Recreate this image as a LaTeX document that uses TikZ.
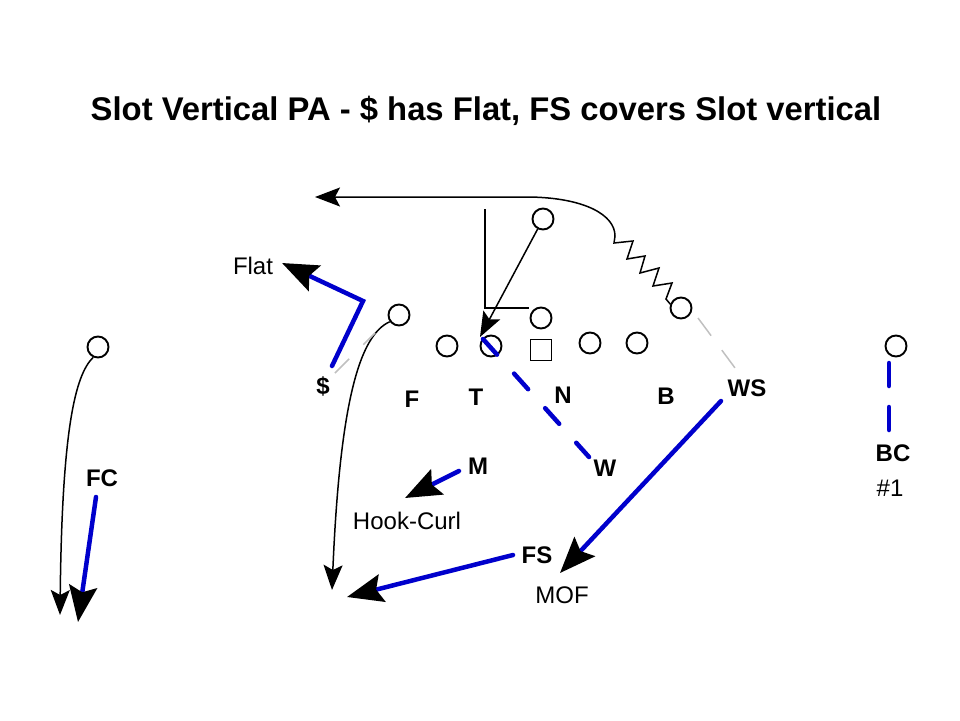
\documentclass[tikz,border=0pt]{standalone}
\usepackage{fontspec}
\setmainfont{Liberation Sans}
\usetikzlibrary{arrows.meta}
\definecolor{routeblue}{RGB}{0,0,204}
\definecolor{ghost}{RGB}{192,192,192}
\begin{document}
\begin{tikzpicture}[x=1pt,y=-1pt,
  player/.style={circle,draw=black,line width=1.9pt,minimum size=21pt,inner sep=0pt},
  linebox/.style={rectangle,draw=black,line width=1.9pt,minimum size=21pt,inner sep=0pt},
  deflab/.style={font=\fontsize{24}{24}\selectfont\bfseries,inner sep=0pt},
  note/.style={font=\fontsize{24}{24}\selectfont,inner sep=0pt},
  titlestyle/.style={font=\fontsize{32.8}{36}\selectfont\bfseries,inner sep=0pt},
  route/.style={black,line width=1.5pt,-{Stealth[length=25pt,width=19pt,inset=5pt]}},
  plainroute/.style={black,line width=1.5pt},
  cover/.style={routeblue,line width=4.5pt,line cap=round,-{Stealth[length=36pt,width=28pt,inset=6pt,color=black]}},
  coverdash/.style={routeblue,line width=4.5pt,line cap=round},
  ghostline/.style={ghost,line width=1.5pt,dash pattern=on 20pt off 20pt}
]
\useasboundingbox (0,0) rectangle (960,720);

% title
\node[titlestyle] (title) at (486,111) {Slot Vertical PA - \$ has Flat, FS covers Slot vertical};

% offense
\node[player] (fcR) at (98,347) {};
\node[player] (slotR) at (399,315) {};
\node[player] (lt) at (447,346) {};
\node[player] (lg) at (491,346) {};
\node[linebox] (ctr) at (541,350) {};
\node[player] (rg) at (590,343) {};
\node[player] (rt) at (637,343) {};
\node[player] (back) at (541,318) {};
\node[player] (qb) at (543,219) {};
\node[player] (te) at (681,308) {};
\node[player] (bcR) at (896,346) {};

% defense labels
\node[deflab] (dollar) at (323,386) {\$};
\node[deflab] (F) at (412,399) {F};
\node[deflab] (T) at (476,397) {T};
\node[deflab] (N) at (563,395) {N};
\node[deflab] (B) at (666,396) {B};
\node[deflab] (WS) at (747,388) {WS};
\node[deflab] (W) at (605,468) {W};
\node[deflab] (M) at (478,466) {M};
\node[deflab] (FS) at (537,555) {FS};
\node[deflab] (BC) at (893,453) {BC};
\node[deflab] (FC) at (102,478) {FC};
\node[note] (flat) at (253,266) {Flat};
\node[note] (hook) at (407,521) {Hook-Curl};
\node[note] (mof) at (562,595) {MOF};
\node[note] (one) at (890,488) {\#1};

% coordinates
\coordinate (topEnd) at (315,197);
\coordinate (topBend) at (530,197);
\coordinate (zzTop) at (615,236);
\coordinate (qbTip) at (480,337);
\coordinate (pullTop) at (485,209);
\coordinate (pullCorner) at (485,308);
\coordinate (pullEnd) at (529,308);
\coordinate (slotTip) at (332,590);
\coordinate (fcTip) at (60,615);
\coordinate (dStart) at (332,366);
\coordinate (dCorner) at (363,301);
\coordinate (flatTip) at (282,263);
\coordinate (mStart) at (459,471);
\coordinate (mTip) at (405,498);
\coordinate (fsStart) at (513,555);
\coordinate (fsTip) at (347,597);
\coordinate (wsStart) at (721,401);
\coordinate (wsTip) at (560,573);
\coordinate (fcStart) at (96,497);
\coordinate (fcBlueTip) at (78,622);
\coordinate (wStart) at (483,339);
\coordinate (wEnd) at (589,457);
\coordinate (bcTop) at (889,363);
\coordinate (bcBot) at (889,435);
\coordinate (g1a) at (335,373);
\coordinate (g1b) at (375,333);
\coordinate (g2a) at (698,318);
\coordinate (g2b) at (738,372);

% offensive routes
\draw[route] (te.160) -- (666,299) -- (672,283) -- (653,286) -- (659,268) -- (640,273)
  -- (645,256) -- (627,259) -- (633,241) -- (614,243) -- (zzTop)
  .. controls (615,215) and (585,198) .. (topBend) -- (topEnd);
\draw[route] (qb) -- (qbTip);
\draw[plainroute] (pullTop) -- (pullCorner) -- (pullEnd);
\draw[route] (slotR.216) .. controls (360,335) and (340,400) .. (slotTip);
\draw[route] (fcR.245) .. controls (75,375) and (62,430) .. (fcTip);

% reads (gray)
\draw[ghostline] (g1a) -- (g1b);
\draw[ghostline,dash pattern=on 22pt off 18pt] (g2a) -- (g2b);

% coverage
\draw[cover] (dStart) -- (dCorner) -- (flatTip);
\draw[cover] (mStart) -- (mTip);
\draw[cover] (fsStart) -- (fsTip);
\draw[cover] (wsStart) -- (wsTip);
\draw[cover] (fcStart) -- (fcBlueTip);
\draw[coverdash,dash pattern=on 21pt off 25.5pt] (wStart) -- (wEnd);
\draw[coverdash,dash pattern=on 23pt off 21pt] (bcTop) -- (bcBot);
\end{tikzpicture}
\end{document}
